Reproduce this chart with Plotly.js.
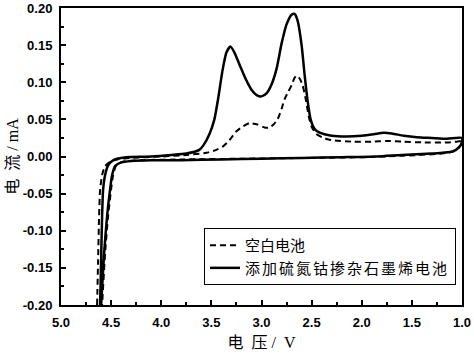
<!DOCTYPE html>
<html>
<head>
<meta charset="utf-8">
<script src="https://cdn.plot.ly/plotly-3.0.1.min.js"></script>
<style>html,body{margin:0;padding:0;background:#fff;}#chart{width:474px;height:353px;}</style>
</head>
<body>
<div id="chart"></div>
<script>
// Series names
const seriesNames = ["空白电池", "添加硫氮钴掺杂石墨烯电池"];

// Blank cell (dashed): potential (V) and current (mA)
const blankV = [4.64,4.63,4.62,4.61,4.59,4.56,4.51,4.44,4.30,4.00,3.75,3.55,3.45,3.39,3.32,3.25,3.18,3.12,3.04,2.97,2.92,2.88,2.84,2.80,2.77,2.73,2.70,2.67,2.65,2.62,2.59,2.56,2.53,2.50,2.45,2.38,2.30,2.10,1.90,1.75,1.60,1.40,1.15,1.05,1.00,
  1.00,1.03,1.08,1.20,1.60,2.00,2.60,3.20,3.80,4.20,4.38,4.45,4.48,4.50,4.53,4.56,4.59];
const blankI = [-0.200,-0.140,-0.080,-0.045,-0.025,-0.013,-0.007,-0.004,-0.002,0.000,0.002,0.005,0.009,0.013,0.022,0.034,0.041,0.045,0.043,0.039,0.039,0.043,0.050,0.064,0.077,0.088,0.096,0.106,0.109,0.105,0.096,0.078,0.055,0.040,0.030,0.025,0.022,0.020,0.020,0.021,0.020,0.019,0.019,0.020,0.021,
  0.018,0.012,0.007,0.004,0.001,-0.001,-0.002,-0.003,-0.004,-0.005,-0.007,-0.012,-0.025,-0.044,-0.080,-0.130,-0.200];

// Doped graphene cell (solid)
const dopedV = [4.61,4.60,4.59,4.58,4.56,4.53,4.49,4.44,4.35,4.10,3.90,3.75,3.62,3.58,3.52,3.47,3.43,3.39,3.35,3.31,3.27,3.22,3.16,3.10,3.04,3.00,2.95,2.90,2.85,2.80,2.75,2.70,2.67,2.64,2.60,2.57,2.54,2.51,2.47,2.42,2.30,2.15,2.00,1.88,1.78,1.70,1.58,1.45,1.30,1.15,1.00,
  1.00,1.02,1.06,1.12,1.30,1.60,1.85,2.20,2.60,3.00,3.40,3.80,4.10,4.30,4.40,4.46,4.49,4.51,4.54,4.57,4.60];
const dopedI = [-0.200,-0.140,-0.080,-0.045,-0.025,-0.012,-0.006,-0.003,-0.001,0.000,0.002,0.004,0.009,0.015,0.030,0.050,0.080,0.115,0.140,0.148,0.140,0.124,0.105,0.090,0.082,0.081,0.085,0.097,0.118,0.152,0.178,0.191,0.192,0.183,0.150,0.110,0.075,0.050,0.037,0.032,0.028,0.027,0.028,0.030,0.032,0.031,0.028,0.026,0.025,0.024,0.025,
  0.020,0.014,0.009,0.006,0.004,0.002,0.000,-0.001,-0.002,-0.003,-0.004,-0.005,-0.005,-0.006,-0.008,-0.013,-0.025,-0.044,-0.080,-0.130,-0.200];

const xTickVals = [5.0,4.5,4.0,3.5,3.0,2.5,2.0,1.5,1.0];
const xTickText = ["5.0","4.5","4.0","3.5","3.0","2.5","2.0","1.5","1.0"];
const yTickVals = [-0.20,-0.15,-0.10,-0.05,0.00,0.05,0.10,0.15,0.20];
const yTickText = ["-0.20","-0.15","-0.10","-0.05","0.00","0.05","0.10","0.15","0.20"];

const tickFont = {family: "Liberation Sans, Arial, sans-serif", size: 13, color: "#000", weight: "bold"};
const titleFont = {family: "Liberation Serif, Noto Sans CJK SC, serif", size: 16, color: "#000"};

const traces = [
  {x: blankV, y: blankI, name: seriesNames[0], type: "scatter", mode: "lines",
   line: {color: "#000", width: 2, dash: "6px,4px", shape: "spline", smoothing: 0.6}},
  {x: dopedV, y: dopedI, name: '<span style="letter-spacing:2px">' + seriesNames[1] + '</span>', type: "scatter", mode: "lines",
   line: {color: "#000", width: 2.5, shape: "spline", smoothing: 0.6}}
];

const layout = {
  width: 474, height: 353,
  margin: {l: 61, r: 12, t: 8, b: 48},
  paper_bgcolor: "#fff", plot_bgcolor: "#fff",
  showlegend: true,
  legend: {x: 0.985, xanchor: "right", y: 0.067, yanchor: "bottom",
    bordercolor: "#000", borderwidth: 1, bgcolor: "#fff",
    font: {family: "Noto Sans CJK SC, sans-serif", size: 15, color: "#000"},
    tracegroupgap: 0, itemwidth: 30},
  xaxis: {range: [5.0, 1.0], autorange: false, tickmode: "array", tickvals: xTickVals, ticktext: xTickText,
    ticks: "inside", ticklen: 5, tickwidth: 2, tickcolor: "#000",
    minor: {ticks: "inside", dtick: 0.25, ticklen: 3, tickwidth: 2, tickcolor: "#000"},
    showline: true, linewidth: 2, linecolor: "#000", mirror: true,
    showgrid: false, zeroline: false, tickfont: tickFont, ticklabelstandoff: 4,
    title: {text: "电\u00a0\u00a0压\u00a0/\u00a0\u00a0V", font: titleFont, standoff: 8}},
  yaxis: {range: [-0.2, 0.2], autorange: false, tickmode: "array", tickvals: yTickVals, ticktext: yTickText,
    ticks: "inside", ticklen: 5, tickwidth: 2, tickcolor: "#000",
    minor: {ticks: "inside", dtick: 0.025, tick0: 0, ticklen: 3, tickwidth: 2, tickcolor: "#000"},
    showline: true, linewidth: 2, linecolor: "#000", mirror: true,
    showgrid: false, zeroline: false, tickfont: tickFont, ticklabelstandoff: 4,
    title: {text: "电\u00a0\u00a0流\u00a0/\u00a0mA", font: titleFont, standoff: 0}}
};

Plotly.newPlot("chart", traces, layout, {displayModeBar: false, staticPlot: true});
</script>
</body>
</html>
